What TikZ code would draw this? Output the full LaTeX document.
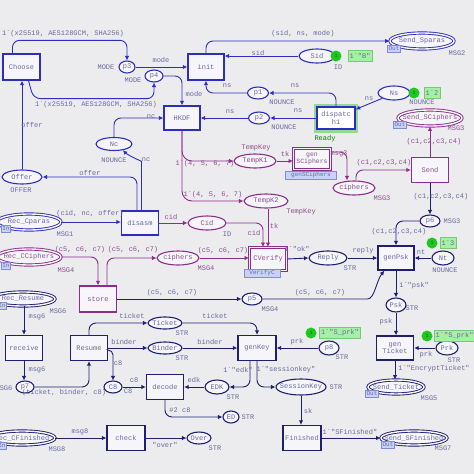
\documentclass[tikz,border=0pt]{standalone}
\usepackage{fontspec}
\newfontfamily\cpn{Liberation Mono}
\usetikzlibrary{shapes.geometric,arrows.meta}
\definecolor{bg}{RGB}{236,236,238}
\definecolor{tfill}{RGB}{246,246,250}
\definecolor{cB}{RGB}{45,45,190}
\definecolor{cN}{RGB}{30,30,115}
\definecolor{cP}{RGB}{140,45,140}
\definecolor{cT}{RGB}{105,105,160}
\definecolor{cTP}{RGB}{140,80,140}
\definecolor{tagfill}{RGB}{200,210,248}
\definecolor{tagdraw}{RGB}{130,140,210}
\definecolor{tokc}{RGB}{30,200,30}
\definecolor{tokbox}{RGB}{165,240,165}
\definecolor{tokdraw}{RGB}{120,200,120}
\definecolor{readyc}{RGB}{150,215,150}
\newcommand{\bq}{\symbol{96}}
\tikzset{
  base/.style={font=\cpn\fontsize{7}{7.5}\selectfont},
  tr/.style={draw, line width=1.3pt, rectangle, fill=tfill, minimum width=37pt, minimum height=25pt, inner sep=0pt, base, align=center},
  trB/.style={tr, draw=cB, text=cT},
  trN/.style={tr, draw=cN, text=cT},
  trP/.style={tr, draw=cP, text=cTP},
  subst/.style={double=tfill, double distance=1.8pt, line width=1pt},
  pl/.style={draw, line width=1.1pt, ellipse, fill=tfill, inner sep=0pt},
  plB/.style={pl, draw=cB},
  plN/.style={pl, draw=cN},
  plP/.style={pl, draw=cP},
  dbl/.style={double=tfill, double distance=1.4pt, line width=0.9pt},
  tx/.style={base, text=cT},
  txp/.style={base, text=cTP},
  lab/.style={base, text=cT, inner sep=0pt},
  labp/.style={base, text=cTP, inner sep=0pt},
  tag/.style={draw=tagdraw, fill=tagfill, line width=0.5pt, inner sep=1pt, font=\cpn\fontsize{6}{6}\selectfont, text=cT, minimum height=7pt},
  tok/.style={circle, fill=tokc, minimum size=11pt, inner sep=0pt, font=\cpn\fontsize{5}{5}\selectfont, text=green!40!black},
  tokb/.style={draw=tokdraw, fill=tokbox, inner sep=1.5pt, minimum height=11pt, base, text=cT},
  tip/.style={-{Latex[length=4.5pt,width=4.5pt]}},
  aB/.style={draw=cB, line width=0.9pt, tip, rounded corners=7pt},
  aN/.style={draw=cN, line width=0.9pt, tip, rounded corners=7pt},
  aP/.style={draw=cP, line width=0.9pt, tip, rounded corners=7pt},
}
\begin{document}
\begin{tikzpicture}[x=1pt,y=-1pt]
\fill[bg] (0,0) rectangle (474,474);
\useasboundingbox (0,0) rectangle (474,474);

% ---------- transitions ----------
\node[trB, minimum height=26pt] (Choose) at (21.5,67) {Choose};
\node[trB, minimum width=36pt, minimum height=26pt] (init) at (206,67) {init};
\node[trB, minimum width=36pt, minimum height=24pt] (HKDF) at (182,118) {HKDF};
\node[trB, minimum height=24pt] (disasm) at (140,223) {disasm};
\node[fill=readyc, minimum width=44pt, minimum height=29pt, inner sep=0pt] (readyhl) at (336,118) {};
\node[trB, minimum width=38pt, minimum height=22pt, fill=white] (dispatch) at (336,118) {dispatc\\h1};
\node[trP, subst, minimum width=37pt, minimum height=21pt, font=\cpn\fontsize{6.5}{7}\selectfont] (genSC) at (312,159) {gen\\SCiphers};
\node[trP] (Send) at (430,170) {Send};
\node[trP, subst, minimum width=37pt, minimum height=23pt] (CVerify) at (268,259) {CVerify};
\node[trP, minimum height=26pt] (store) at (98,299) {store};
\node[trN, minimum width=36pt, minimum height=24pt] (genPsk) at (396,258) {genPsk};
\node[trN, minimum height=24pt] (genTicket) at (395,348) {gen\\Ticket};
\node[trN, minimum width=38pt] (genKey) at (257,348) {genKey};
\node[trN] (decode) at (165,387) {decode};
\node[trN] (Resume) at (89,348) {Resume};
\node[trN] (receive) at (24,348) {receive};
\node[trN, minimum width=38pt] (Finished) at (302,438) {Finished};
\node[trN, minimum width=38pt] (check) at (126,438) {check};

% ---------- places ----------
\node[plB, minimum width=16pt, minimum height=12pt, label={[tx]center:p3}] (p3) at (127,67) {};
\node[plB, minimum width=18pt, minimum height=12pt, label={[tx]center:p4}] (p4) at (154,76) {};
\node[plB, minimum width=36pt, minimum height=14pt, label={[tx]center:Sid}] (Sid) at (317,56) {};
\node[plB, dbl, minimum width=64pt, minimum height=16pt, label={[tx]center:Send\_Sparas}] (SendSparas) at (422,41) {};
\node[plB, minimum width=21pt, minimum height=12pt, label={[tx]center:p1}] (p1) at (258,93) {};
\node[plB, minimum width=21pt, minimum height=12pt, label={[tx]center:p2}] (p2) at (259,118) {};
\node[plB, minimum width=32pt, minimum height=14pt, label={[tx]center:Ns}] (Ns) at (394,93) {};
\node[plB, minimum width=36pt, minimum height=13pt, label={[tx]center:Nc}] (Nc) at (114,144) {};
\node[plB, minimum width=40pt, minimum height=14pt, label={[tx]center:Offer}] (Offer) at (22,177) {};
\node[plB, dbl, minimum width=64pt, minimum height=16pt, label={[tx]center:Rec\_Cparas}] (RecCparas) at (29,222) {};
\node[plP, minimum width=38pt, minimum height=14pt, label={[txp]center:Cid}] (Cid) at (207,223) {};
\node[plP, minimum width=42pt, minimum height=14pt, label={[txp]center:TempK1}] (TempK1) at (255,161) {};
\node[plP, minimum width=44pt, minimum height=14pt, label={[txp]center:TempK2}] (TempK2) at (266,201) {};
\node[plP, minimum width=42pt, minimum height=14pt, label={[txp]center:ciphers}] (ciph3) at (354,188) {};
\node[plP, dbl, minimum width=64pt, minimum height=16pt, label={[txp]center:Send\_SCiphers}] (SendSCiphers) at (430,118) {};
\node[plP, dbl, minimum width=64pt, minimum height=16pt, label={[txp]center:Rec\_CCiphers}] (RecCCiphers) at (29,257) {};
\node[plP, minimum width=42pt, minimum height=14pt, label={[txp]center:ciphers}] (ciph4) at (178,258) {};
\node[plN, minimum width=20pt, minimum height=12pt, label={[tx]center:p6}] (p6) at (430,221) {};
\node[plN, minimum width=38pt, minimum height=14pt, label={[tx]center:Reply}] (Reply) at (328,258) {};
\node[plN, minimum width=22pt, minimum height=14pt, label={[tx]center:Nt}] (Nt) at (443,258) {};
\node[plN, minimum width=20pt, minimum height=12pt, label={[tx]center:p5}] (p5) at (252,299) {};
\node[plN, minimum width=20pt, minimum height=14pt, label={[tx]center:Psk}] (Psk) at (396,305) {};
\node[plN, minimum width=22pt, minimum height=14pt, label={[tx]center:Prk}] (Prk) at (447,348) {};
\node[plN, dbl, minimum width=56pt, minimum height=14pt, label={[tx]center:Send\_Ticket}] (SendTicket) at (396,387) {};
\node[plN, minimum width=20pt, minimum height=14pt, label={[tx]center:p8}] (p8) at (329,348) {};
\node[plN, minimum width=50pt, minimum height=16pt, label={[tx]center:SessionKey}] (SessionKey) at (301,387) {};
\node[plN, minimum width=24pt, minimum height=14pt, label={[tx]center:EDK}] (EDK) at (217,387) {};
\node[plN, minimum width=16pt, minimum height=12pt, label={[tx]center:ED}] (ED) at (231,417) {};
\node[plN, minimum width=34pt, minimum height=12pt, label={[tx]center:Ticket}] (Ticket) at (165,323) {};
\node[plN, minimum width=34pt, minimum height=12pt, label={[tx]center:Binder}] (Binder) at (165,348) {};
\node[plN, minimum width=18pt, minimum height=12pt, label={[tx]center:C8}] (C8) at (113,387) {};
\node[plN, dbl, minimum width=64pt, minimum height=14pt, label={[tx]center:Rec\_Resume}] (RecResume) at (23,299) {};
\node[plN, minimum width=18pt, minimum height=12pt, label={[tx]center:p7}] (p7) at (25,387) {};
\node[plN, dbl, minimum width=66pt, minimum height=14pt, label={[tx]center:Rec\_CFinished}] (RecCFinished) at (22,438) {};
\node[plN, minimum width=24pt, minimum height=12pt, label={[tx]center:Over}] (Over) at (199,438) {};
\node[plN, dbl, minimum width=66pt, minimum height=14pt, label={[tx]center:Send\_SFinished}] (SendSFinished) at (414,438) {};

% ---------- port / substitution tags ----------
\node[tag] (tOut1) at (394,49) {Out};
\node[tag] (tOut2) at (400,125) {Out};
\node[tag] (tIn1) at (6,229) {In};
\node[tag] (tIn2) at (6,266) {In};
\node[tag] (tIn3) at (2,306) {In};
\node[tag] (tIn4) at (2,446) {In};
\node[tag] (tOut3) at (372,394) {Out};
\node[tag] (tOut4) at (388,445) {Out};
\node[tag, minimum width=51pt] (tGen) at (311,175) {genSCiphers};
\node[tag, minimum width=36pt] (tVer) at (262,273) {VerifyC};

% ---------- tokens ----------
\node[tokb] (kSid) at (360,56) {1\bq"B"};
\node[tok] (cSid) at (336,56) {1};
\node[tokb] (kNs) at (432,93) {1\bq2};
\node[tok] (cNs) at (414,93) {1};
\node[tokb] (kNt) at (448,243) {1\bq3};
\node[tok] (cNt) at (432,243) {1};
\node[tokb] (kp8) at (340,333) {1\bq"S\_prk"};
\node[tok] (cp8) at (311,333) {1};
\node[tokb, anchor=west] (kPrk) at (434,336) {1\bq"S\_prk"};
\node[tok] (cPrk) at (427,336) {1};

% ---------- arcs ----------
\draw[aB] ([xshift=-9pt]Choose.north) -- ++(0,-13) -| (p3.north);
\draw[aB] ([xshift=7pt]Choose.south) -- ++(5,18) -| (p4.south);
\draw[aB] (p3.east) -- (init.west |- p3.east);
\draw[aB] (p4.east) -| (HKDF.north);
\draw[aB] (init.north) |- (SendSparas.west);
\draw[aB] (Sid.west) -- (init.east |- Sid.west);
\draw[aB] (p1.west) -| (init.south);
\draw[aB] (dispatch.north) |- (p1.east);
\draw[aB] (dispatch.west) -- (p2.east);
\draw[aB] (p2.west) -- (HKDF.east |- p2.west);
\draw[aB] (Ns.south west) -- ([yshift=-3pt]dispatch.north east);
\draw[aB] (Nc.north) |- (HKDF.west);
\draw[aB] ([xshift=1.5pt]disasm.north) -- ++(0,-42) .. controls +(0,-7) and +(5,5) .. (Nc.-35);
\draw[aB] ([xshift=-3pt]disasm.north) |- (Offer.east);
\draw[aB] (Offer.north) -- (Offer.north |- Choose.south);
\draw[aB] (RecCparas.east) -- (disasm.west |- RecCparas.east);
\draw[aP] (disasm.east) -- (Cid.west);
\draw[aP, rounded corners=10pt] (HKDF.south) |- (TempK1.west);
\draw[aP, rounded corners=10pt] (HKDF.south) |- (TempK2.west);
\draw[aP] (TempK1.east) -- (genSC.west |- TempK1.east);
\draw[aP] ([yshift=7pt]genSC.east) -| ([xshift=-7pt]ciph3.north);
\draw[aP] ([xshift=2pt]ciph3.north) |- (Send.west);
\draw[aP] (Send.north) -- (SendSCiphers.south);
\draw[aN] (Send.south) -- (p6.north);
\draw[aN] (p6.west) -| (genPsk.north);
\draw[aP] ([xshift=2pt]TempK2.south) -- ([xshift=2pt]TempK2.south |- CVerify.north);
\draw[aP] (Cid.east) -| ([xshift=-5pt]CVerify.north);
\draw[aP] (ciph4.east) -- (CVerify.west |- ciph4.east);
\draw[aN] (CVerify.east) -- (Reply.west);
\draw[aN] (Reply.east) -- (genPsk.west);
\draw[aN] (Nt.west) -- (genPsk.east);
\draw[aP] (RecCCiphers.east) -| (store.north);
\draw[aP] ([xshift=9pt]store.north) |- (ciph4.west);
\draw[aN] (store.east) -- (p5.west);
\draw[aN] (p5.east) -- ++(98,0) .. controls +(14,0) and +(-8,10) .. ([xshift=7pt]genPsk.south west);
\draw[aN] (genPsk.south) -- (Psk.north);
\draw[aN] (Psk.south) -- (Psk.south |- genTicket.north);
\draw[aN] (Prk.west) -- (genTicket.east);
\draw[aN] (genTicket.south) -- (genTicket.south |- SendTicket.north);
\draw[aN] (p8.west) -- (genKey.east);
\draw[aN] (Ticket.east) -| (genKey.north);
\draw[aN] (Binder.east) -- (genKey.west);
\draw[aN] (Resume.north) |- (Ticket.west);
\draw[aN] (Resume.east) -- (Binder.west);
\draw[aN, rounded corners=5pt] ([yshift=-2pt]Resume.east) -| (C8.north);
\draw[aN] (C8.east) -- (decode.west);
\draw[aN] (EDK.west) -- (decode.east);
\draw[aN] ([xshift=-7pt]genKey.south) |- (EDK.east);
\draw[aN] (genKey.south) |- (SessionKey.west);
\draw[aN] (SessionKey.south) -- (SessionKey.south |- Finished.north);
\draw[aN] (Finished.east) -- (SendSFinished.west);
\draw[aN] (decode.south) |- (ED.west);
\draw[aN] (RecResume.south -| receive.north) -- (receive.north);
\draw[aN] (receive.south) -- (receive.south |- p7.north);
\draw[aN] (p7.east) -| (Resume.south);
\draw[aN] (RecCFinished.east) -- (check.west);
\draw[aN] (check.east) -- (Over.west);

% ---------- arc inscriptions ----------
\node[lab] at (63,34) {1\bq(x25519, AES128GCM, SHA256)};
\node[lab] at (96,105) {1\bq(x25519, AES128GCM, SHA256)};
\node[lab] at (161,60) {mode};
\node[lab] at (194,94) {mode};
\node[lab] at (303,34) {(sid, ns, mode)};
\node[lab] at (258,53) {sid};
\node[lab] at (227,86) {ns};
\node[lab] at (295,86) {ns};
\node[lab] at (298,111) {ns};
\node[lab] at (230,112) {ns};
\node[lab] at (369,99) {ns};
\node[lab] at (151,117) {nc};
\node[lab] at (146,160) {nc};
\node[lab] at (32,125) {offer};
\node[lab] at (90,173) {offer};
\node[lab] at (90,214) {(cid, nc, offer)};
\node[labp] at (171,217) {cid};
\node[labp] at (205,164) {1\bq(4, 5, 6, 7)};
\node[labp] at (213,195) {1\bq(4, 5, 6, 7)};
\node[labp] at (285,154) {tk};
\node[labp] at (339,154) {msg3};
\node[labp] at (384,163) {(c1,c2,c3,c4)};
\node[labp] at (434,142) {(c1,c2,c3,c4)};
\node[lab] at (441,197) {(c1,c2,c3,c4)};
\node[lab] at (399,232) {(c1,c2,c3,c4)};
\node[labp] at (274,226) {tk};
\node[labp] at (254,233) {cid};
\node[labp] at (223,251) {(c5, c6, c7)};
\node[labp] at (80,250) {(c5, c6, c7)};
\node[labp] at (133,250) {(c5, c6, c7)};
\node[lab] at (297,249) {1\bq"ok"};
\node[lab] at (363,251) {reply};
\node[lab] at (421,252) {nt};
\node[lab] at (172,293) {(c5, c6, c7)};
\node[lab] at (320,293) {(c5, c6, c7)};
\node[lab] at (414,286) {1\bq"psk"};
\node[lab] at (386,322) {psk};
\node[lab] at (426,355) {prk};
\node[lab] at (434,369) {1\bq"EncryptTicket"};
\node[lab] at (297,342) {prk};
\node[lab] at (132,316) {ticket};
\node[lab] at (215,316) {ticket};
\node[lab] at (124,342) {binder};
\node[lab] at (210,342) {binder};
\node[lab] at (118,363) {c8};
\node[lab] at (134,380) {c8};
\node[lab] at (194,380) {edk};
\node[lab] at (238,370) {1\bq"edk"};
\node[lab] at (286,370) {1\bq"sessionkey"};
\node[lab] at (308,411) {sk};
\node[lab] at (350,432) {1\bq"SFinished"};
\node[lab] at (180,410) {\#2 c8};
\node[lab] at (37,317) {msg6};
\node[lab] at (37,370) {msg6};
\node[lab] at (64,393) {(ticket, binder, c8)};
\node[lab] at (80,432) {msg8};
\node[lab] at (165,445) {"over"};

% ---------- place colour sets ----------
\node[lab] at (106,67) {MODE};
\node[lab] at (133,80) {MODE};
\node[lab] at (457,53) {MSG2};
\node[lab] at (338,67) {ID};
\node[lab] at (282,102) {NOUNCE};
\node[lab] at (284,127) {NOUNCE};
\node[lab] at (422,102) {NOUNCE};
\node[base, text=green!50!black, inner sep=0pt] at (325,139) {Ready};
\node[labp] at (456,128) {MSG3};
\node[lab] at (114,160) {NOUNCE};
\node[lab] at (21,190) {OFFER};
\node[lab] at (65,234) {MSG1};
\node[lab] at (227,234) {ID};
\node[labp] at (256,148) {TempKey};
\node[labp] at (301,212) {TempKey};
\node[labp] at (382,198) {MSG3};
\node[lab] at (452,221) {MSG3};
\node[labp] at (66,270) {MSG4};
\node[labp] at (206,268) {MSG4};
\node[lab] at (350,268) {STR};
\node[lab] at (445,270) {NOUNCE};
\node[lab] at (270,309) {MSG4};
\node[lab] at (412,308) {STR};
\node[lab] at (454,360) {STR};
\node[lab] at (429,398) {MSG5};
\node[lab] at (342,357) {STR};
\node[lab] at (336,387) {STR};
\node[lab] at (233,397) {STR};
\node[lab] at (248,417) {STR};
\node[lab] at (182,333) {STR};
\node[lab] at (182,358) {STR};
\node[lab] at (128,391) {C8};
\node[lab] at (58,311) {MSG6};
\node[lab] at (4,388) {MSG6};
\node[lab] at (57,449) {MSG8};
\node[lab] at (215,448) {STR};
\node[lab] at (443,448) {MSG7};
\end{tikzpicture}
\end{document}
